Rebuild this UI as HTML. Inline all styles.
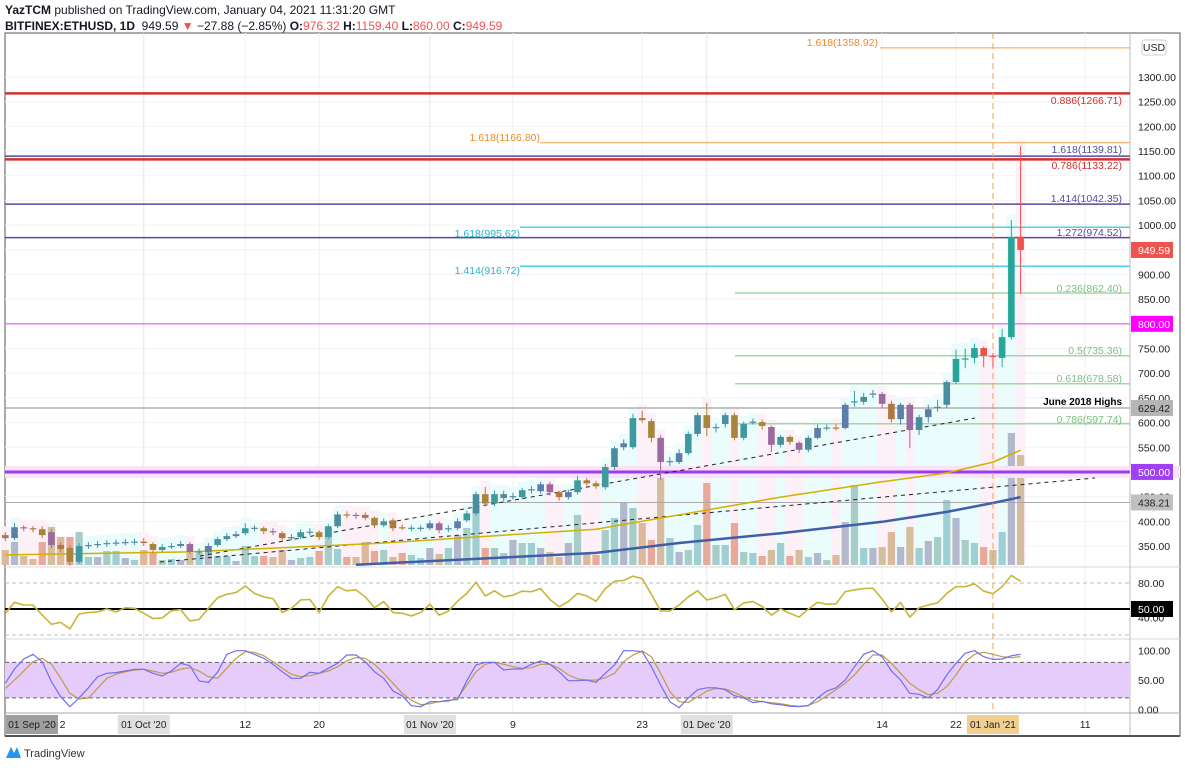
<!DOCTYPE html>
<html><head><meta charset="utf-8"><style>
body{margin:0;background:#fff;width:1185px;height:768px;overflow:hidden;font-family:"Liberation Sans",sans-serif;}
svg{position:absolute;left:0;top:0}
.hd{position:absolute;left:5px;font-size:12px;color:#131722;white-space:nowrap}
</style></head><body>
<div class="hd" style="top:3px"><b>YazTCM</b> published on TradingView.com, January 04, 2021 11:31:20 GMT</div>
<div class="hd" style="top:19px"><b>BITFINEX:ETHUSD, 1D</b>&nbsp; 949.59 <span style="color:#ef5350">▼</span> −27.88 (−2.85%) <b>O:</b><span style="color:#ef5350">976.32</span> <b>H:</b><span style="color:#ef5350">1159.40</span> <b>L:</b><span style="color:#ef5350">860.00</span> <b>C:</b><span style="color:#ef5350">949.59</span></div>
<svg id="c" width="1185" height="768"></svg>
<script>
const opens=[372,366,388,386,384,378,352,346,318,350,352,354,356,357,358,359,354,342,348,350,354,338,338,352,364,370,376,385,386,380,376,366,368,377,378,368,390,414,413,413,407,392,402,388,385,386,386,396,384,386,402,416,455,436,447,449,449,463,461,475,459,449,459,483,477,469,510,550,550,609,603,569,520,520,538,577,615,589,597,615,569,600,601,591,555,571,559,545,569,589,590,589,641,642,657,658,638,607,636,585,611,630,636,682,728,731,751,735,731,773,976.32];
const closes=[366,388,386,384,372,352,344,318,350,352,354,356,357,358,359,356,342,348,350,354,338,339,350,364,370,374,386,387,380,378,366,368,378,379,368,390,414,413,411,407,392,400,386,387,387,387,396,382,386,400,416,455,436,455,455,451,463,465,475,459,449,459,483,477,471,510,548,558,609,605,569,520,522,538,577,615,589,591,615,569,597,602,593,555,571,561,545,569,589,590,589,636,643,652,659,638,607,636,585,611,627,632,682,729,730,751,735,733,773,976,949.59];
const highs=[378,396,392,390,390,384,358,352,356,358,360,362,363,364,365,366,358,354,356,360,358,345,356,368,376,380,396,392,390,386,380,374,384,386,382,394,420,420,418,418,410,406,406,394,392,392,402,400,392,406,422,460,470,462,462,458,468,472,480,480,462,464,492,488,482,516,552,566,618,624,608,574,530,546,582,620,640,598,620,620,602,608,606,594,575,574,562,574,596,596,596,640,664,660,666,662,644,640,640,616,636,646,686,748,750,760,754,740,790,1010,1159.4];
const lows=[360,362,380,378,366,346,338,310,314,344,346,348,350,351,352,350,336,338,344,346,334,333,334,348,360,366,372,380,374,372,360,362,364,372,362,364,386,406,405,402,386,388,380,382,380,380,382,376,378,382,398,412,430,430,440,444,444,456,456,452,442,444,454,472,466,464,504,544,546,600,560,484,512,516,534,572,572,580,590,564,564,596,586,540,550,555,538,540,566,584,584,586,632,636,650,630,600,596,548,575,600,622,630,678,710,720,712,712,712,768,860];
const volumes=[15,23,9,6,23,38,28,28,33,8,8,14,14,7,5,15,12,5,6,5,12,12,19,9,9,4,19,9,9,8,15,5,7,8,14,37,16,8,8,23,14,15,8,12,10,7,17,11,17,30,37,58,17,17,12,25,22,22,17,13,8,22,50,12,10,35,47,62,57,42,25,93,27,13,15,40,82,20,20,42,13,12,9,15,22,9,15,8,12,5,10,43,80,17,17,18,33,18,38,17,24,28,65,47,25,22,18,15,33,132,110];
const rsiValues=[45,57.7,54.6,54.6,43,32.3,34.7,27,44.2,46,46.7,50,46.7,51.5,50.8,45,39,39.7,48,49.2,36.2,38,50.8,63,67,69,76.5,68,64,62,46,50.8,60.4,61,46,65,75.7,71,72,64,51.5,58.5,46,45,42,46,55.4,43,47.5,59,68,80.8,65,71,64,66,70.5,70,73.5,61,52.7,58.5,68,65,59,73.5,82,83,88,85,67,47.7,47.7,54.6,64,71,60.4,63,67,49.2,57,58.5,53,43,50,45,40.7,50,57.7,55.4,56,70,72,73.5,74,61.5,46.7,57.5,40.7,51.5,54.6,57,68,75.7,75.7,79,70.5,67.7,75.7,88.8,82];
const stochK=[44.6,68.8,85.6,93.6,81,47.3,22,5,20,37,55.7,61.5,62.6,65.4,68.2,68.2,61.5,57,65.4,78.4,74.4,48.5,46.3,63.2,93.6,99.7,99.7,93.6,86.8,76.7,64.2,53,53,63.2,61.5,70,78.4,92.4,92.4,81,64.2,53,31.6,23.7,6.8,5,13.5,13.5,16,17,49,75.5,80,80,67,68.8,68.8,76.7,82.4,76.7,64.2,49,49,50,46.3,61.5,75.5,99.7,99.7,98,72.6,41.7,13.5,3.4,19.8,33.8,37,37,33.8,23.7,20,12,14,10,8.5,5.7,5,6.8,19.8,31.6,37,50,72.6,93.6,99.7,89.6,65.4,50,27.7,26,20,33.8,58.8,78.4,95.3,99.7,89.6,85,85.6,91.3,93.6];
const stochD=[36,50,65.4,81,86.8,76.7,53,27.7,18,20,36,53,60,64,67,68.2,65.4,61.5,63.2,68.8,71,65.4,55.7,53,70,86.8,98,97,91.3,81,70,60,55.7,57.5,61.5,65.4,72.6,82.4,88,86.8,76.7,61.5,44.6,27.7,16,8.5,10.2,13.5,14.6,20,41.7,64,76.7,80,76.7,72.6,70,71,76.7,76.7,70,58.8,52,50,50,54,61.5,81,92.4,99,89.6,61.5,30.4,13.5,12.4,21.7,31.6,36,35,29.3,21.7,16,13.5,11.8,10.2,7.4,5.7,7.4,13.5,23.7,33.8,44.6,58.8,76.7,92.4,92.4,78.4,61.5,44.6,33.8,25.3,27.7,39,58.8,81,93.6,97,93.6,89.6,88,89.6];
const ma50Idx=[0,20,41,64,73,84,95,102,107,110];
const ma50Val=[332,338,356,384,413,449,480,498,520,544];
const ma200Idx=[38,64,73,84,95,102,107,110];
const ma200Val=[312,336,356,376,399,419,437,449];
const priceTicks=[1300,1250,1200,1150,1100,1050,1000,950,900,850,800,750,700,650,600,550,500,450,400,350];
const timeLabels=["2","12","20","9","23","14","22","11"];
const timeLabelIdx=[6.2,26,34,55,69,95,103,117];
const monthLabels=["01 Sep '20","01 Oct '20","01 Nov '20","01 Dec '20","01 Jan '21"];
const monthIdx=[2.9,15,46,76,107];

const NS="http://www.w3.org/2000/svg";
const svg=document.getElementById('c');
function el(t,a,p){const e=document.createElementNS(NS,t);for(const k in a)e.setAttribute(k,a[k]);(p||svg).appendChild(e);return e;}
const X=k=>5.3+k*9.23;
const Y=p=>546-(p-350)*0.4937;
const VY=v=>565-v;
const RY=v=>609-(v-50)*0.867;
const SY=v=>709.7-v*0.592;
const R=1130;

el('rect',{x:5,y:33,width:1175,height:703,fill:'none',stroke:'#555','stroke-width':1});
for(const p of priceTicks){el('line',{x1:5,x2:R,y1:Y(p),y2:Y(p),stroke:'#f0f3fa'});}
for(let j=1;j<timeLabelIdx.length;j++){el('line',{x1:X(timeLabelIdx[j]),x2:X(timeLabelIdx[j]),y1:33,y2:713,stroke:'#eef0f4'});}
for(let j=1;j<4;j++){el('line',{x1:X(monthIdx[j]),x2:X(monthIdx[j]),y1:33,y2:713,stroke:'#e4e6ea'});}
el('line',{x1:5,x2:1180,y1:567,y2:567,stroke:'#d8dadf'});
el('line',{x1:5,x2:1180,y1:639,y2:639,stroke:'#d8dadf'});
el('line',{x1:5,x2:1180,y1:713,y2:713,stroke:'#aaa'});
el('line',{x1:R,x2:R,y1:33,y2:736,stroke:'#bbb'});
el('line',{x1:5,x2:1180,y1:736,y2:736,stroke:'#555','stroke-width':2});

for(let k=0;k<opens.length;k++){
  const up=closes[k]>=opens[k];
  const t=el('rect',{x:X(k)-4.6,y:Y(highs[k])-6,width:9.23,height:565-Y(highs[k])+6,fill:up?'#ebfcfc':'#fdf0f6'});
  
  
}
const vUp=['#9fcfd2','#b3b8cc','#a8cdc8'],vDn=['#dcb89c','#e6a99a','#d4bea0'];
for(let k=0;k<volumes.length;k++){
  const up=closes[k]>=opens[k];
  const b=el('rect',{x:X(k)-3.6,y:VY(volumes[k]),width:7.2,height:volumes[k],fill:up?vUp[k%3]:vDn[k%3]});
  
  
}
function hl(p,x1,col,w,name){const l=el('line',{x1:x1,x2:R,y1:Y(p),y2:Y(p),stroke:col,'stroke-width':w});}
el('rect',{x:5,y:Y(500)-6,width:1175,height:12,fill:'#fbe3f7'});
hl(1358.92,880,'#f5a04a',1,'fib-1358');
hl(1266.71,5,'#d32f2f',2.5,'fib-1266');
hl(1166.80,540,'#f5a04a',1,'fib-1166');
hl(1139.81,5,'#5a4a9a',1.5,'fib-1139');
hl(1133.22,5,'#d32f2f',2.5,'fib-1133');
hl(1042.35,5,'#5a4a9a',1.5,'fib-1042');
hl(995.62,520,'#4dd0e1',1.5,'fib-995');
hl(974.52,5,'#5a4a9a',1.5,'fib-974');
hl(916.72,520,'#4dd0e1',1.5,'fib-916');
hl(862.40,735,'#a5d6a7',1.5,'fib-862');
hl(800,5,'#e040fb',1,'level-800');
hl(735.36,735,'#a5d6a7',1.5,'fib-735');
hl(678.58,735,'#a5d6a7',1.5,'fib-678');
hl(629.42,5,'#b0b0b0',1.5,'june-2018-highs');
hl(597.74,735,'#a5d6a7',1.5,'fib-597');
hl(500,5,'#9c3cf0',3,'level-500');
hl(438.21,5,'#aaaaaa',1,'level-438');
el('line',{x1:200,y1:556,x2:975,y2:418,stroke:'#222','stroke-dasharray':'4,4'});
el('line',{x1:160,y1:562,x2:1095,y2:478,stroke:'#222','stroke-dasharray':'4,4'});
function poly(idx,vals,col,w,name){let d='';for(let j=0;j<idx.length;j++)d+=(j?'L':'M')+X(idx[j]).toFixed(1)+','+Y(vals[j]).toFixed(1);const p=el('path',{d:d,fill:'none',stroke:col,'stroke-width':w});}
poly(ma50Idx,ma50Val,'#d4b000',1.5,'ma-yellow');
poly(ma200Idx,ma200Val,'#3f5fa8',2.5,'ma-blue');
el('line',{x1:993,x2:993,y1:33,y2:713,stroke:'#f0a050','stroke-dasharray':'6,4','stroke-width':1});
const upCols=['#4a8ca0','#5b7fa8','#3f9aa0'],dnCols=['#b07840','#a6863a','#9a6aa0'];
for(let k=0;k<opens.length;k++){
  const up=closes[k]>=opens[k];
  let col=up?upCols[k%3]:dnCols[k%3];
  if(k>=103)col=up?'#26a69a':'#ef5350';
  const g=el('g',{});
  
  
  el('line',{x1:X(k),x2:X(k),y1:Y(highs[k]),y2:Y(lows[k]),stroke:col,'stroke-width':1},g);
  const t=Y(Math.max(opens[k],closes[k])),b=Y(Math.min(opens[k],closes[k]));
  el('rect',{x:X(k)-3.3,y:t,width:6.6,height:Math.max(1.2,b-t),fill:col},g);
}
function tx(s,x,y,col,anchor,extra){const t=el('text',{x:x,y:y,fill:col,'font-size':10.5,'text-anchor':anchor||'end'});t.textContent=s;if(extra)for(const k in extra)t.setAttribute(k,extra[k]);return t;}
tx('1.618(1358.92)',878,46,'#f08a24');
tx('0.886(1266.71)',1122,104,'#d32f2f');
tx('1.618(1166.80)',540,141,'#f08a24');
tx('1.618(1139.81)',1122,153,'#5a4a9a');
tx('0.786(1133.22)',1122,169,'#d32f2f');
tx('1.414(1042.35)',1122,202,'#5a4a9a');
tx('1.618(995.62)',520,237,'#26b5c6');
tx('1.272(974.52)',1122,236,'#5a4a9a');
tx('1.414(916.72)',520,274,'#26b5c6');
tx('0.236(862.40)',1122,292,'#7cc17f');
tx('0.5(735.36)',1122,354,'#7cc17f');
tx('0.618(678.58)',1122,382,'#7cc17f');
tx('June 2018 Highs',1122,405,'#000',null,{'font-weight':'bold','font-size':10});
tx('0.786(597.74)',1122,423,'#7cc17f');
for(const p of priceTicks){tx(p.toFixed(2),1138,Y(p)+4,'#222','start');}
function box(v,col,txtCol,name){const y=Y(v);const r=el('rect',{x:1131,y:y-8,width:42,height:16,fill:col});tx(v.toFixed(2),1138,y+4,txtCol,'start');}
box(949.59,'#ef5350','#fff','last-price-label');
box(800,'#ff00ff','#fff','level-800-label');
box(629.42,'#b5b5b5','#222','level-629-label');
box(500,'#a040f5','#fff','level-500-label');
box(438.21,'#c0c0c0','#222','level-438-label');
el('rect',{x:1142,y:40,width:24,height:15,fill:'#fff',stroke:'#ccc',rx:2});
tx('USD',1154,51,'#222','middle');
el('line',{x1:5,x2:R,y1:RY(80),y2:RY(80),stroke:'#bbb','stroke-dasharray':'4,3'});
el('line',{x1:5,x2:R,y1:RY(20),y2:RY(20),stroke:'#bbb','stroke-dasharray':'4,3'});
el('line',{x1:5,x2:R,y1:RY(50),y2:RY(50),stroke:'#000','stroke-width':2});
function line(vals,fn,col,w,name){let d='';for(let k=0;k<vals.length;k++)d+=(k?'L':'M')+X(k).toFixed(1)+','+fn(vals[k]).toFixed(1);const p=el('path',{d:d,fill:'none',stroke:col,'stroke-width':w});}
line(rsiValues,RY,'#c9b53a',1.6,'rsi-line');
tx('80.00',1138,RY(80)+4,'#222','start');
tx('40.00',1138,RY(40)+4,'#222','start');
el('rect',{x:1131,y:RY(50)-8,width:42,height:16,fill:'#000'});
tx('50.00',1138,RY(50)+4,'#fff','start');
el('rect',{x:5,y:SY(80),width:R-5,height:SY(20)-SY(80),fill:'#e6ccfb'});
el('line',{x1:5,x2:R,y1:SY(80),y2:SY(80),stroke:'#666','stroke-dasharray':'4,3'});
el('line',{x1:5,x2:R,y1:SY(20),y2:SY(20),stroke:'#666','stroke-dasharray':'4,3'});
line(stochD,SY,'#c09a4a',1.2,'stoch-d-line');
line(stochK,SY,'#6f6ff0',1.2,'stoch-k-line');
tx('100.00',1138,SY(100)+4,'#222','start');
tx('50.00',1138,SY(50)+4,'#222','start');
tx('0.00',1138,SY(0)+4,'#222','start');
for(let j=0;j<timeLabels.length;j++){const t=tx(timeLabels[j],X(timeLabelIdx[j]),728,'#222','middle');}
const mcol=['#9e9e9e','#e0e0e0','#e0e0e0','#e0e0e0','#f0cf90'];
for(let j=0;j<monthLabels.length;j++){const cx=X(monthIdx[j]);el('rect',{x:cx-26,y:715,width:52,height:19,fill:mcol[j]});const t=tx(monthLabels[j],cx,728,'#222','middle',{'font-size':10});}
const lg=el('g',{});


el('path',{d:'M6,758 L11,747 L14,753 L17,747 L21,758 Z',fill:'#2196f3'},lg);
tx('TradingView',24,757,'#333','start',{'font-size':11});
</script>
</body></html>
